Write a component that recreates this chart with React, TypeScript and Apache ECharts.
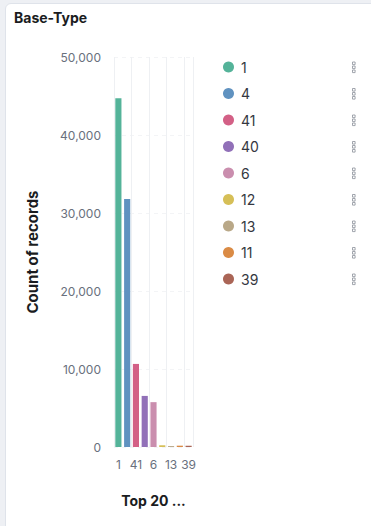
import React, { useEffect, useRef } from "react";
import * as echarts from "echarts";

const categories = ["1", "4", "41", "40", "6", "12", "13", "11", "39"];
const counts = [44700, 31800, 10650, 6550, 5750, 220, 120, 170, 160];
const colors = ["#54B399", "#6092C0", "#D36086", "#9170B8", "#CA8EAE", "#D6BF57", "#B9A888", "#DA8B45", "#AA6556"];
const yTicks = { min: 0, max: 50000, interval: 10000 };

const FONT = "Inter, 'Noto Sans', sans-serif";

export default function App() {
  const ref = useRef<HTMLDivElement>(null);
  useEffect(() => {
    if (!ref.current) return;
    const chart = echarts.init(ref.current, undefined, { renderer: "svg" });
    const series = categories.map((c, i) => ({
      name: c,
      type: "bar" as const,
      stack: "total",
      barWidth: "70%",
      data: categories.map((_, j) => (j === i ? counts[i] : "-")),
      itemStyle: { color: colors[i] },
    }));
    const dotIcons: any[] = [];
    categories.forEach((_, i) => {
      const cy = 67 + i * 26.5;
      for (let k = 0; k < 3; k++) {
        dotIcons.push({
          type: "rect",
          shape: { x: 352.5, y: cy - 5 + k * 4, width: 2.6, height: 2.6 },
          style: { fill: "none", stroke: "#8a8f99", lineWidth: 0.8 },
        });
      }
    });
    chart.setOption({
      animation: false,
      color: colors,
      textStyle: { fontFamily: FONT },
      title: {
        text: "Base-Type",
        left: 14,
        top: 10,
        padding: 0,
        textStyle: { fontSize: 14, fontWeight: "bold", color: "#1a1c21", fontFamily: FONT },
      },
      legend: {
        orient: "vertical",
        left: 218,
        top: 55,
        icon: "circle",
        itemWidth: 11,
        itemHeight: 11,
        itemGap: 12.5,
        textStyle: { fontSize: 14, color: "#343741", fontFamily: FONT, padding: [0, 0, 0, 2] },
        data: categories,
      },
      grid: { left: 114, top: 57, width: 79, height: 390, containLabel: false },
      xAxis: {
        type: "category",
        data: categories,
        name: "Top 20 ...",
        nameLocation: "middle",
        nameGap: 46,
        nameTextStyle: { fontSize: 14, fontWeight: "bold", color: "#1a1c21", fontFamily: FONT },
        axisLine: { show: false },
        axisTick: { show: false },
        axisLabel: { interval: 1, fontSize: 12, color: "#69707d", margin: 11, fontFamily: FONT },
        splitLine: { show: true, lineStyle: { color: "#eef0f3", width: 1 } },
      },
      yAxis: {
        type: "value",
        min: yTicks.min,
        max: yTicks.max,
        interval: yTicks.interval,
        name: "Count of records",
        nameLocation: "middle",
        nameGap: 74,
        nameTextStyle: { fontSize: 15, fontWeight: "bold", color: "#1a1c21", fontFamily: FONT },
        axisLine: { show: false },
        axisTick: { show: false },
        axisLabel: {
          fontSize: 12,
          color: "#69707d",
          margin: 13,
          fontFamily: FONT,
          formatter: (v: number) => v.toLocaleString("en-US"),
        },
        splitLine: { show: true, lineStyle: { color: "#f3f4f6", type: [4, 4] } },
      },
      graphic: dotIcons,
      series,
    });
    return () => chart.dispose();
  }, []);
  return (
    <div style={{ position: "fixed", left: 0, top: 0, width: 371, height: 526, background: "#eef0f4", overflow: "hidden" }}>
      <div
        style={{
          position: "absolute",
          left: 5,
          top: 3,
          width: 400,
          height: 560,
          background: "#ffffff",
          border: "1px solid #dfe3ea",
          borderRadius: 6,
        }}
      />
      <div ref={ref} style={{ position: "absolute", left: 0, top: 0, width: 371, height: 526 }} />
    </div>
  );
}
